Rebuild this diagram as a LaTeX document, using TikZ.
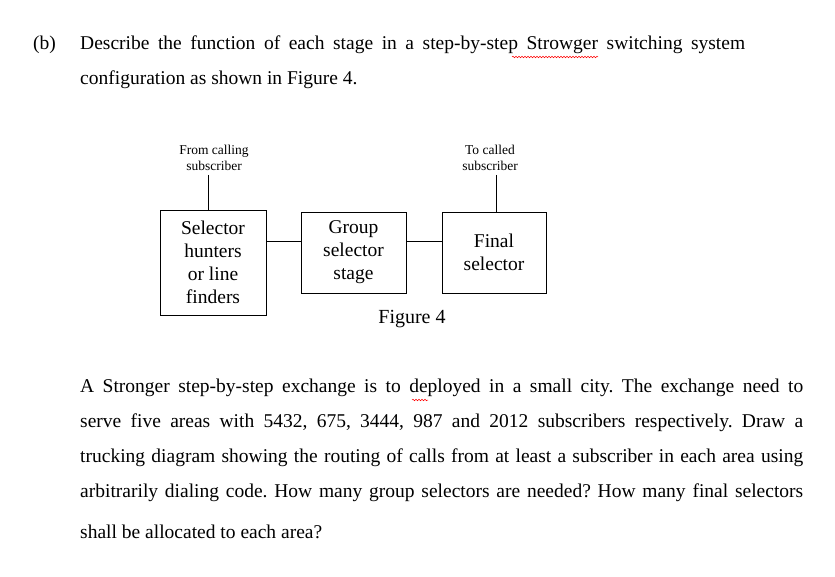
\documentclass[tikz,border=0pt]{standalone}
\usepackage{fontspec}
\setmainfont{Liberation Serif}
\usetikzlibrary{decorations.pathmorphing}
\begin{document}
\frenchspacing
\begin{tikzpicture}[x=1pt,y=-1pt,
  body/.style={anchor=west,inner sep=0pt,font=\fontsize{19.5}{22}\selectfont},
  box/.style={draw,line width=0.8pt,inner sep=0pt,align=center,font=\fontsize{19.5}{23}\selectfont},
  small/.style={align=center,inner sep=0pt,font=\fontsize{13.5}{16}\selectfont},
  wavy/.style={red,line width=0.5pt,decorate,decoration={snake,amplitude=0.8pt,segment length=3pt}}]
\useasboundingbox (0,0) rectangle (835,577);
\node[body] (b) at (33,45) {(b)};
\node[body] (l1) at (80,45) {\makebox[665pt][s]{Describe the function of each stage in a step-by-step Strowger switching system}};
\node[body] (l2) at (80,80) {configuration as shown in Figure 4.};
\draw[wavy] (512,57) -- (598,57);
% diagram
\node[box,minimum width=106pt,minimum height=105pt] (s1) at (213,262.5) {Selector\\hunters\\or line\\finders};
\node[box,minimum width=105pt,minimum height=81pt] (s2) at (353.5,252.5) {Group\\selector\\stage};
\node[box,minimum width=104pt,minimum height=81pt] (s3) at (494,252.5) {Final\\selector};
\node[small] (from) at (214,158) {From calling\\subscriber};
\node[small] (to) at (490,158) {To called\\subscriber};
\coordinate (f1) at (208,175);
\coordinate (t1) at (496,175);
\draw[line width=0.8pt] (f1) -- (f1 |- s1.north);
\draw[line width=0.8pt] (t1) -- (t1 |- s3.north);
\draw[line width=0.8pt] (s1.east |- 0,241) -- (s2.west |- 0,241);
\draw[line width=0.8pt] (s2.east |- 0,241) -- (s3.west |- 0,241);
\node[inner sep=0pt,font=\fontsize{20}{22}\selectfont] (fig) at (412,319) {Figure 4};
% paragraph
\node[body] (p1) at (80,388) {\makebox[723pt][s]{A Stronger step-by-step exchange is to deployed in a small city. The exchange need to}};
\node[body] (p2) at (80,423) {\makebox[723pt][s]{serve five areas with 5432, 675, 3444, 987 and 2012 subscribers respectively. Draw a}};
\node[body] (p3) at (80,458) {\makebox[723pt][s]{trucking diagram showing the routing of calls from at least a subscriber in each area using}};
\node[body] (p4) at (80,493) {\makebox[723pt][s]{arbitrarily dialing code. How many group selectors are needed? How many final selectors}};
\node[body] (p5) at (80,532) {shall be allocated to each area?};
\draw[wavy] (412,400) -- (428,400);
\end{tikzpicture}
\end{document}
